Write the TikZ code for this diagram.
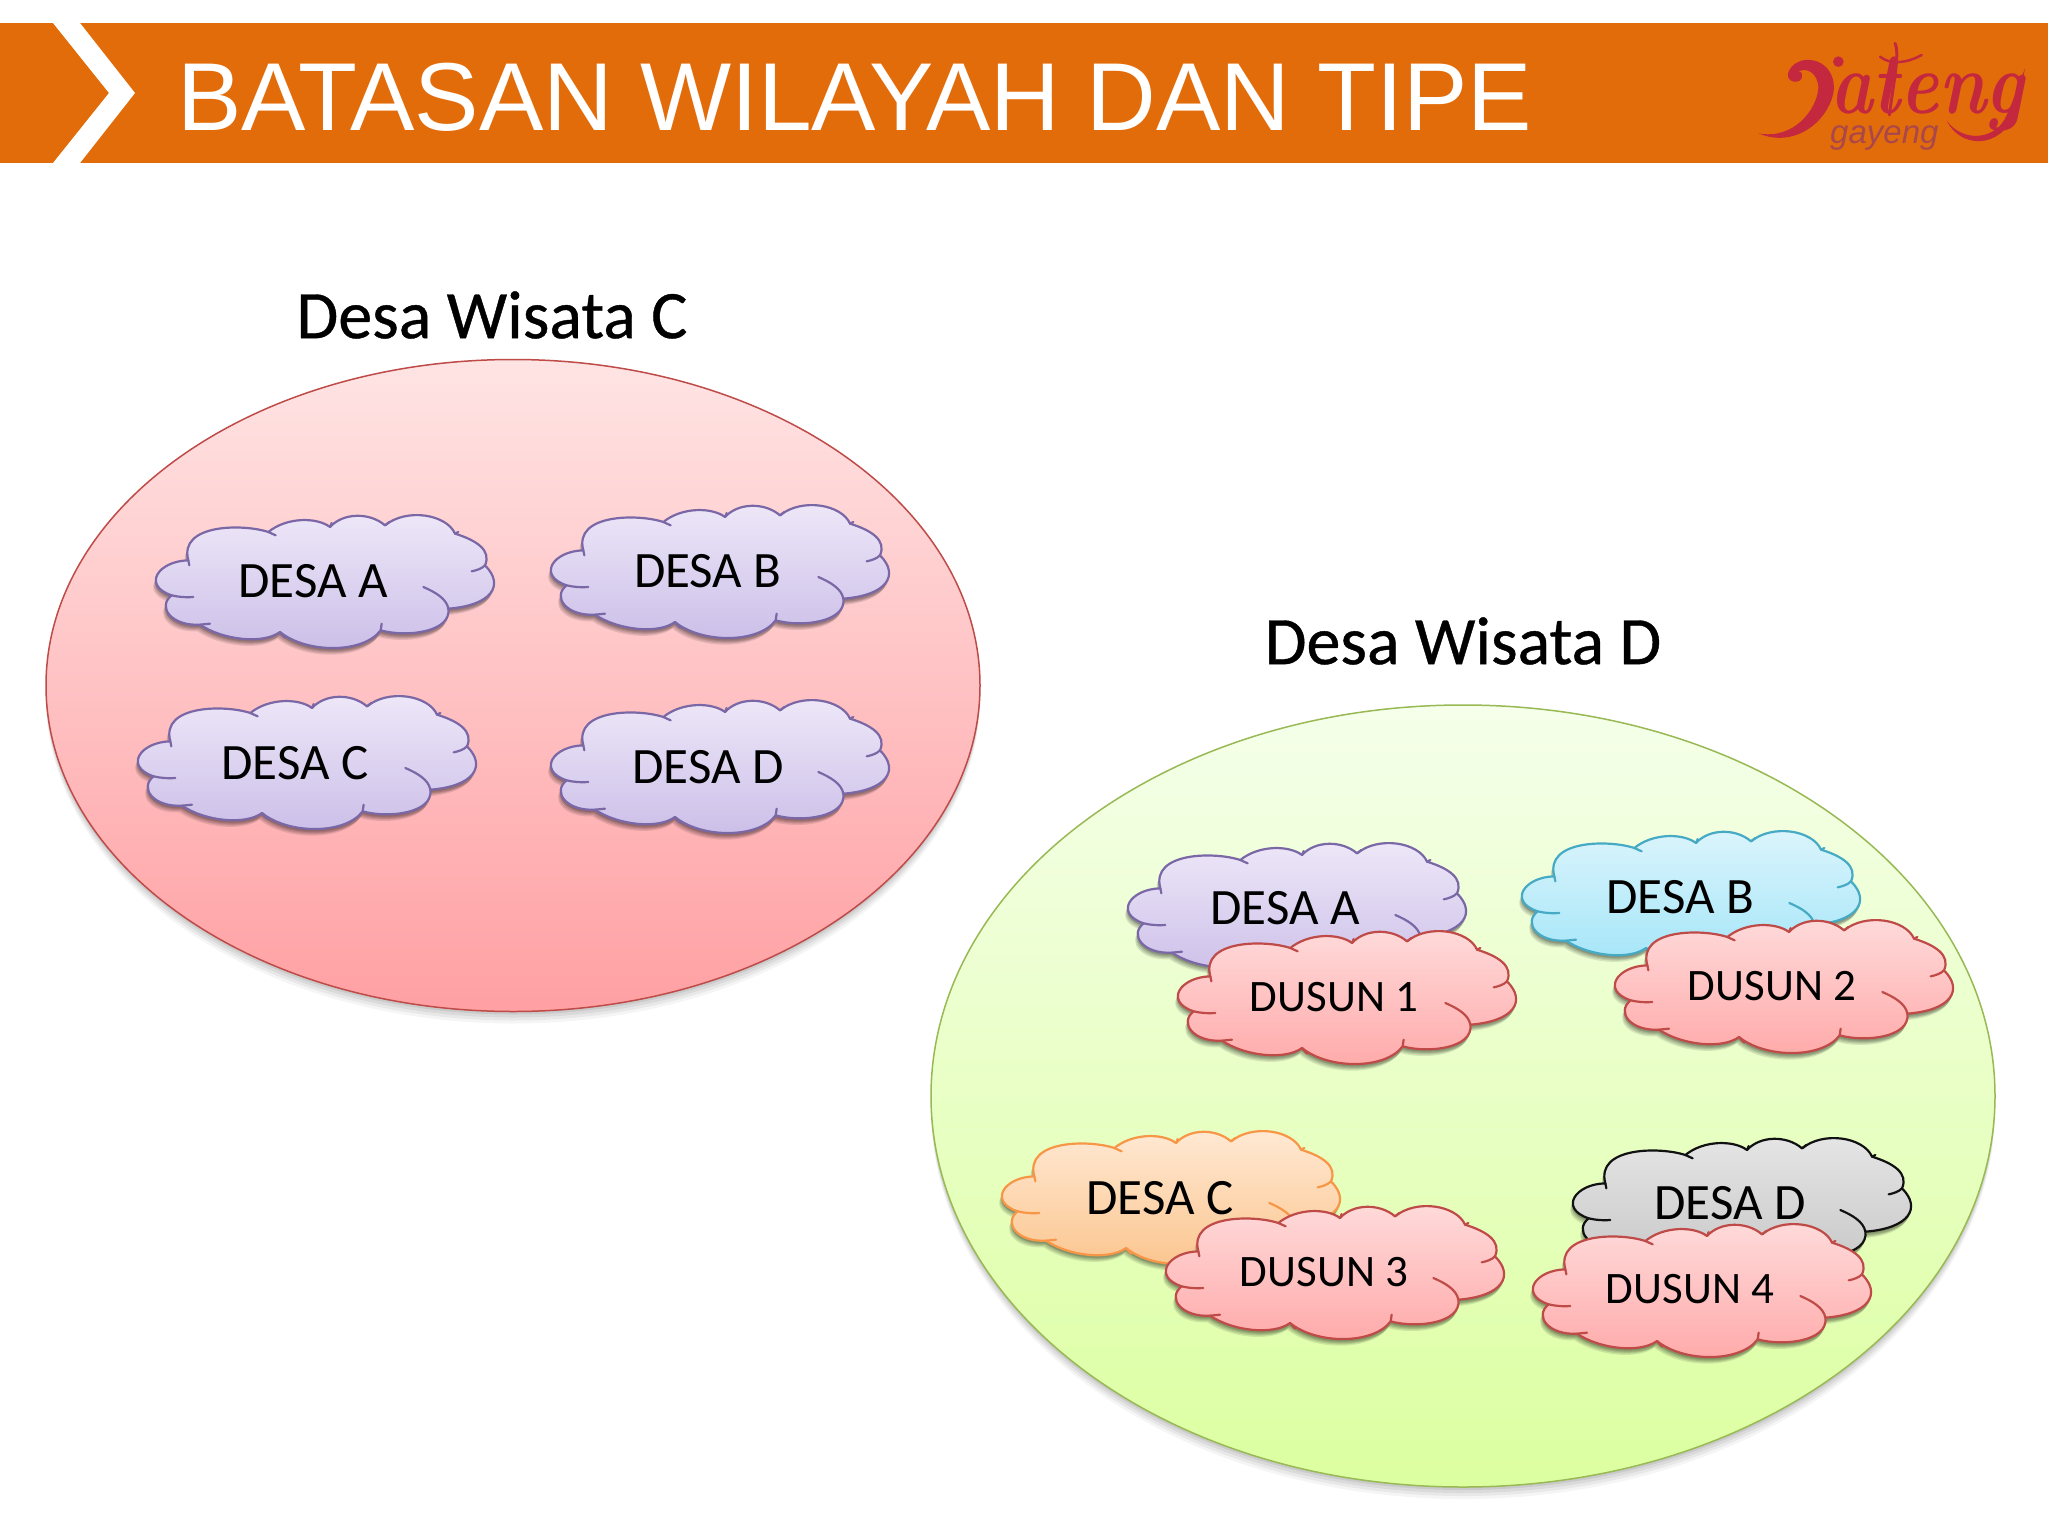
\documentclass[tikz,border=0pt]{standalone}
\usepackage{fontspec}
\setmainfont{Carlito}
\newfontfamily\headfont{Liberation Sans}
\newfontfamily\logofont{Latin Modern Roman}
\newfontfamily\titlefont[FakeBold=0.6]{Carlito}
\definecolor{headorange}{HTML}{E36C0A}
\definecolor{logored}{HTML}{C4283F}
\definecolor{logogrey}{HTML}{A9474A}
\definecolor{purA}{HTML}{EFE9F9}\definecolor{purB}{HTML}{CBBEE8}\definecolor{purS}{HTML}{7A67A6}
\definecolor{pinA}{HTML}{FFDCDC}\definecolor{pinB}{HTML}{FFA9A9}\definecolor{pinS}{HTML}{BE4B48}
\definecolor{bluA}{HTML}{DDF5FC}\definecolor{bluB}{HTML}{A2E5F8}\definecolor{bluS}{HTML}{46AAC4}
\definecolor{oraA}{HTML}{FFEAD6}\definecolor{oraB}{HTML}{FBC58E}\definecolor{oraS}{HTML}{F79646}
\definecolor{greA}{HTML}{E6E6E6}\definecolor{greB}{HTML}{C6C6C6}\definecolor{greS}{HTML}{111111}
\definecolor{redEA}{HTML}{FFE4E4}\definecolor{redEB}{HTML}{FFA0A3}\definecolor{redES}{HTML}{BE4B48}
\definecolor{limeA}{HTML}{F5FFEA}\definecolor{limeB}{HTML}{DCFFA0}\definecolor{limeS}{HTML}{98B954}
\newcommand{\cloudoutline}{(175,210) .. controls (85,212) and (35,285) .. (125,315)
 .. controls (80,350) and (125,408) .. (210,403)
 .. controls (280,450) and (400,462) .. (450,425)
 .. controls (530,490) and (700,490) .. (752,420)
 .. controls (830,442) and (965,425) .. (955,355)
 .. controls (1085,345) and (1125,285) .. (1065,225)
 .. controls (1085,180) and (1040,150) .. (975,130)
 .. controls (950,72) and (830,52) .. (765,105)
 .. controls (720,66) and (640,66) .. (600,110)
 .. controls (560,80) and (470,80) .. (415,125)
 .. controls (340,100) and (145,100) .. (175,210) -- cycle}
\newcommand{\cloudtails}{(175,210) -- (178,225)
 (125,315) .. controls (145,320) and (170,322) .. (190,320)
 (210,403) -- (240,400)
 (450,425) -- (465,442)
 (752,420) -- (755,400)
 (955,355) .. controls (950,325) and (915,305) .. (880,290)
 (1065,225) .. controls (1055,235) and (1040,240) .. (1025,243)
 (975,130) -- (985,125)
 (765,105) -- (778,95)
 (600,110) -- (605,98)
 (415,125) -- (437,135)}
% #1 cx, #2 cy, #3 colour prefix
\newcommand{\cloudshape}[3]{%
 \begin{scope}[shift={(#1,#2)},xscale=1/3,yscale=1/3,shift={(-585,-275)}]
  \foreach \oo/\oy in {-8/20,-6/16,-3/13,0/10,-3/7}{\fill[black,opacity=.10,shift={(\oo,\oy)}] \cloudoutline;}
  \shade[top color=#3A,bottom color=#3B,draw=#3S,line width=2.2pt,line join=round] \cloudoutline;
  \draw[#3S,line width=2.2pt,line cap=round] \cloudtails;
 \end{scope}}
\tikzset{
 cloudtext/.style={font=\fontsize{51}{54}\selectfont,text=black,inner sep=0pt,anchor=center},
 dusuntext/.style={font=\fontsize{45}{48}\selectfont,text=black,inner sep=0pt,anchor=center},
 grouptitle/.style={font=\titlefont\fontsize{68}{72}\selectfont,text=black,inner sep=0pt,anchor=center},
 headtitle/.style={font=\headfont\fontsize{96.5}{100}\selectfont,text=white,inner sep=0pt,anchor=west}
}
\begin{document}
\begin{tikzpicture}[x=1pt,y=-1pt]
\useasboundingbox (0,0) rectangle (2048,1536);
\fill[white] (0,0) rectangle (2048,1536);
% header
\fill[headorange] (0,23) rectangle (2048,163);
\fill[white] (53,23) -- (80,23) -- (135,93) -- (80,163) -- (53,163) -- (109,93) -- cycle;
\node[headtitle] (title) at (177,97) {BATASAN WILAYAH DAN TIPE};
% logo
\begin{scope}[shift={(1650,0)},xscale=1/3,yscale=1/3]
 \fill[logored] (325,400) .. controls (430,445) and (530,370) .. (550,280)
   .. controls (560,220) and (520,175) .. (465,180)
   .. controls (420,185) and (395,235) .. (430,245)
   .. controls (460,250) and (465,215) .. (445,215)
   .. controls (470,200) and (505,220) .. (505,265)
   .. controls (500,330) and (430,420) .. (325,400) -- cycle;
 \fill[logored] (565,185) circle (16);
 \fill[logored] (890,362) .. controls (930,445) and (1050,450) .. (1095,340)
   .. controls (1105,300) and (1115,260) .. (1125,205)
   .. controls (1100,270) and (1090,300) .. (1070,345)
   .. controls (1040,420) and (940,430) .. (890,362) -- cycle;
 \draw[logored,line width=3pt,line cap=round] (735,130) .. controls (750,160) and (730,250) .. (718,345);
 \draw[logored,line width=2.5pt,line cap=round] (690,170) .. controls (720,195) and (770,190) .. (815,165);
\end{scope}
\node[inner sep=0pt,anchor=base west,text=logored,xscale=.82,font=\logofont\bfseries\itshape\fontsize{88}{90}\selectfont] (logomain) at (1830,114) {ateng};
\node[inner sep=0pt,anchor=base west,text=logogrey,font=\headfont\itshape\fontsize{33}{35}\selectfont] (logosub) at (1830,143) {gayeng};
% group titles
\node[grouptitle] (titleC) at (492,315) {Desa Wisata C};
\node[grouptitle] (titleD) at (1463,641) {Desa Wisata D};
% large ellipses
\foreach \oy/\oo in {12/.04,9/.05,6/.06,3/.07}{\fill[black,opacity=\oo] (513,685.5+\oy) ellipse [x radius=467,y radius=326];}
\shade[top color=redEA,bottom color=redEB,draw=redES,line width=1.5pt] (513,685.5) ellipse [x radius=467,y radius=326];
\foreach \oy/\oo in {12/.04,9/.05,6/.06,3/.07}{\fill[black,opacity=\oo] (1463,1096+\oy) ellipse [x radius=532,y radius=391];}
\shade[top color=limeA,bottom color=limeB,draw=limeS,line width=1.5pt] (1463,1096) ellipse [x radius=532,y radius=391];
% clouds, group C
\cloudshape{325}{582}{pur}\node[cloudtext] (cAa) at (313,581) {DESA A};
\cloudshape{720}{572}{pur}\node[cloudtext] (cBb) at (708,571) {DESA B};
\cloudshape{307}{763}{pur}\node[cloudtext] (cCc) at (295,763) {DESA C};
\cloudshape{720}{767}{pur}\node[cloudtext] (cDd) at (708,767) {DESA D};
% clouds, group D
\cloudshape{1297}{910}{pur}\node[cloudtext] (dAa) at (1285,908) {DESA A};
\cloudshape{1347}{998}{pin}\node[dusuntext] (dD1) at (1334,997) {DUSUN 1};
\cloudshape{1691}{898}{blu}\node[cloudtext] (dBb) at (1680,897) {DESA B};
\cloudshape{1784}{987}{pin}\node[dusuntext] (dD2) at (1772,986) {DUSUN 2};
\cloudshape{1171}{1198}{ora}\node[cloudtext] (dCc) at (1160,1198) {DESA C};
\cloudshape{1335}{1273}{pin}\node[dusuntext] (dD3) at (1324,1272) {DUSUN 3};
\cloudshape{1742}{1205}{gre}\node[cloudtext] (dDd) at (1730,1203) {DESA D};
\cloudshape{1702}{1291}{pin}\node[dusuntext] (dD4) at (1690,1289) {DUSUN 4};
\end{tikzpicture}
\end{document}
